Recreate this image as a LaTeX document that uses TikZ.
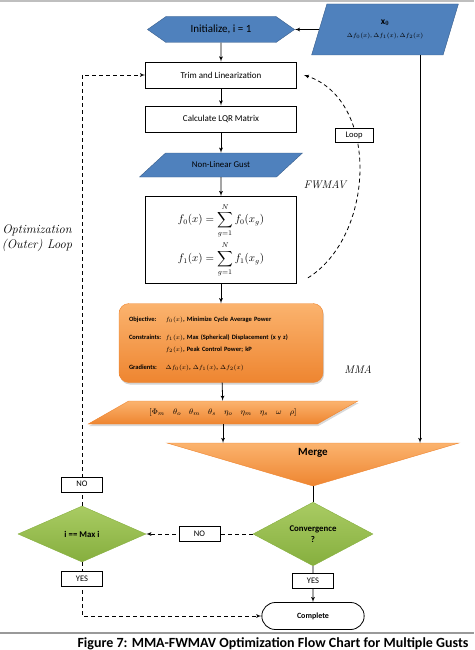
\documentclass[tikz,border=0pt]{standalone}
\usepackage{amsmath}
\usepackage{fontspec}
\setsansfont{Carlito}
\usepackage{tikz}
\usetikzlibrary{arrows,calc,positioning,shapes.geometric,shapes.symbols,shapes.misc,shadows}
\newcommand{\arrtip}{latex'}
\definecolor{chblue}{HTML}{4F81BD}
\definecolor{chblueline}{HTML}{385D8A}
\definecolor{chorange}{HTML}{F7964A}
\definecolor{chorangetop}{HTML}{FBB36E}
\definecolor{chorangebot}{HTML}{EE8530}
\definecolor{chgreentop}{HTML}{A9CB63}
\definecolor{chgreenbot}{HTML}{86AF3E}

\begin{document}
\begin{tikzpicture}
[x=1pt,y=-1pt,thick,>=\arrtip,
 dsh/.style={dash pattern=on 4pt off 3pt},
 bx/.style={draw,rectangle,minimum width=151,minimum height=26,font=\sffamily\fontsize{9}{10}\selectfont},
 bluepar/.style={draw=chblueline,fill=chblue,thin,trapezium,trapezium stretches=true},
 orangepar/.style={draw=chorangebot,top color=chorangetop,bottom color=chorangebot,thin,trapezium,trapezium stretches=true},
 greendia/.style={diamond,draw=chgreenbot,thin,top color=chgreentop,bottom color=chgreenbot,inner sep=0pt,
   align=center,font=\sffamily\bfseries\fontsize{8.8}{10}\selectfont},
 lbl/.style={draw,solid,thin,fill=white,minimum width=41,minimum height=15,inner sep=0pt,font=\sffamily\fontsize{8.5}{9}\selectfont},
 tag/.style={font=\rmfamily\itshape\fontsize{11}{15}\selectfont,align=center}]
\useasboundingbox (0,0) rectangle (474,650);
\draw[black!25,line width=2.5pt] (0,1) -- (474,1);
\draw[black!40,line width=1.5pt] (0,633) -- (474,633);
% main column
\node[signal,signal to=west and east,signal pointer angle=70,draw=chblueline,fill=chblue,thin,
  minimum width=147,minimum height=26,inner sep=0pt,font=\sffamily\fontsize{11}{12}\selectfont] (ini) at (221,29.5) {Initialize, i = 1};
\node[bluepar,trapezium left angle=67,trapezium right angle=113,minimum width=147,minimum height=51,
  align=center,font=\sffamily\fontsize{6.2}{7}\selectfont] (xo) at (385,29.5)
  {\textbf{\fontsize{9.5}{10}\selectfont x$_\mathbf{0}$}\\[6pt]$\Delta f_0(x)$, $\Delta f_1(x)$, $\Delta f_2(x)$};
\node[bx] (trim) at (221,75) {Trim and Linearization};
\node[bx] (lqr) at (221,119) {Calculate LQR Matrix};
\node[bluepar,trapezium left angle=40,trapezium right angle=140,minimum width=163,minimum height=24,
  font=\sffamily\fontsize{8.8}{10}\selectfont] (gust) at (221,165) {Non-Linear Gust};
\node[draw,rectangle,minimum width=151,minimum height=87,align=center,font=\fontsize{10.5}{11}\selectfont] (fw) at (221,240)
  {$\displaystyle f_0(x)=\sum_{g=1}^{N} f_0(x_g)$\\[3pt]$\displaystyle f_1(x)=\sum_{g=1}^{N} f_1(x_g)$};
\node[draw=chorangebot,thin,rounded corners=10pt,top color=chorangetop,bottom color=chorangebot,
  drop shadow={opacity=0.35,shadow xshift=1pt,shadow yshift=-2pt},
  minimum width=204,minimum height=79,inner xsep=10pt,text width=184,align=left,
  font=\sffamily\bfseries\fontsize{6.5}{12}\selectfont] (mma) at (221,343)
  {\begin{tabular}{@{}l@{\ \ }l@{}}
   Objective: & $f_0(x)$, Minimize Cycle Average Power\\[6pt]
   Constraints: & $f_1(x)$, Max (Spherical) Displacement (x y z)\\
   & $f_2(x)$, Peak Control Power; kP\\[6pt]
   Gradients: & $\Delta f_0(x)$, $\Delta f_1(x)$, $\Delta f_2(x)$
   \end{tabular}};
\node[orangepar,trapezium left angle=24,trapezium right angle=156,minimum width=270,minimum height=23,
  drop shadow={opacity=0.3,shadow xshift=1pt,shadow yshift=-2pt},
  font=\fontsize{8}{9}\selectfont] (par) at (223,412.5)
  {$[\Phi_m\quad \theta_o\quad \theta_m\quad \theta_s\quad \eta_o\quad \eta_m\quad \eta_s\quad \omega\quad \rho]$};
% merge
\draw[draw=chorangebot,thin,top color=chorangetop,bottom color=chorangebot] (167,443) -- (459,443) -- (313,486) -- cycle;
\node[font=\sffamily\bfseries\fontsize{11}{12}\selectfont] (mrg) at (313,453) {Merge};
\coordinate (mg) at (313,443);
\coordinate (mv) at (313,486);
% decisions
\node[greendia,minimum width=120,minimum height=57] (conv) at (313,534) {Convergence\\[1pt]?};
\node[greendia,minimum width=128,minimum height=56] (imax) at (82,534) {i == Max i};
\node[draw,rounded rectangle,minimum width=109,minimum height=27,
  font=\sffamily\bfseries\fontsize{8}{9}\selectfont] (done) at (313,616) {Complete};
% labels
\node[tag] (fwl) at (325,185) {FWMAV};
\node[tag] (mmal) at (358,370) {MMA};
\node[tag,font=\rmfamily\itshape\fontsize{12.5}{15}\selectfont] (outl) at (37,238) {Optimization\\(Outer) Loop};
\node[font=\sffamily\bfseries\fontsize{14}{16}\selectfont] (cap) at (273,644)
  {Figure 7: MMA-FWMAV Optimization Flow Chart for Multiple Gusts};
% connectors
\draw[->] (xo) to (ini);
\draw[->] (ini) to (trim);
\draw[->] (trim) to (lqr);
\draw[->] (lqr) to (gust);
\draw[->] (gust) to (fw);
\draw[->] (fw) to (mma);
\draw[->] (mma) to (par);
\draw[->] (par.south) to (par.south |- mg);
\draw[->] ([xshift=35pt]xo.south) to ([xshift=35pt]xo.south |- mg);
\draw (mv) to (conv);
\draw[->] (conv) to node[lbl,pos=0.4] {YES} (done);
\draw[dsh,->] (conv) to node[lbl] {NO} (imax);
\draw[dsh,->] (imax) |- node[lbl,pos=0.025] {NO} (trim);
\draw[dsh,->] (imax) |- node[lbl,pos=0.15] {YES} (done);
\draw[dsh,->] ([xshift=11pt,yshift=6pt]fw.south east) .. controls (375,236) and (380,100) .. ([xshift=7pt]trim.east);
\node[lbl,minimum width=38,minimum height=14] (lp) at (354,135) {Loop};
\end{tikzpicture}
\end{document}
